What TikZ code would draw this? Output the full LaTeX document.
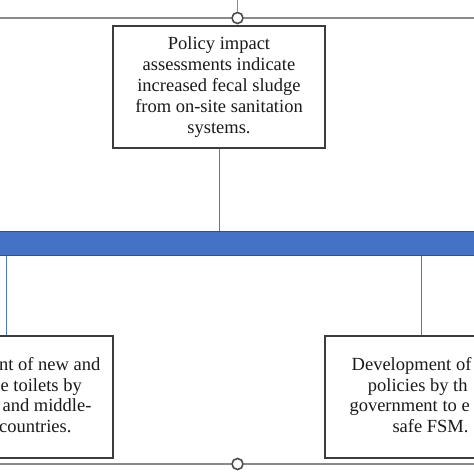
\documentclass[tikz,border=0pt]{standalone}
\usepackage{fontspec}
\setmainfont{Liberation Serif}
\definecolor{barblue}{HTML}{4472C4}
\definecolor{bardark}{HTML}{2F528F}
\definecolor{connblue}{HTML}{4F78C8}
\definecolor{boxgray}{HTML}{3C3C3C}
\definecolor{guidegray}{HTML}{8A8A8A}
\definecolor{handlegray}{HTML}{4A4A4A}
\definecolor{txtcol}{HTML}{1A1A1A}
\newcommand\boxfont{\fontsize{18.5}{20.8}\selectfont}
\begin{document}
\begin{tikzpicture}[x=1pt,y=-1pt,
  stepbox/.style={draw=boxgray, line width=1.2pt, fill=white, inner sep=0pt, align=center, font=\boxfont, text=txtcol},
  txt/.style={inner sep=0pt, font=\boxfont, text=txtcol},
  conn/.style={draw=connblue, line width=1pt},
  guide/.style={draw=guidegray, line width=1.2pt},
  handle/.style={circle, draw=handlegray, fill=white, line width=1.6pt, minimum size=11pt, inner sep=0pt},
  barstyle/.style={fill=barblue, draw=bardark, line width=1pt, inner sep=0pt}]
\useasboundingbox (0,0) rectangle (474,474);
\clip (0,0) rectangle (474,474);
\fill[white] (0,0) rectangle (474,474);
% selection guides
\coordinate (stem) at (237.5,-2);
\coordinate (gtl) at (-2,18);
\coordinate (gtr) at (476,18);
\coordinate (gbl) at (-2,464);
\coordinate (gbr) at (476,464);
\node[handle] (h1) at (237.5,18) {};
\node[handle] (h2) at (237.5,464) {};
\draw[guide] (stem) -- (h1.north);
\draw[guide] (gtl) -- (h1.west);
\draw[guide] (h1.east) -- (gtr);
\draw[guide] (gbl) -- (h2.west);
\draw[guide] (h2.east) -- (gbr);
% boxes
\node[stepbox, minimum width=212pt, minimum height=122pt] (top) at (219,87)
  {Policy impact\\assessments indicate\\increased fecal sludge\\from on-site sanitation\\systems.};
\node[barstyle, minimum width=480pt, minimum height=24pt] (bar) at (237,243) {};
\node[stepbox, minimum width=213pt, minimum height=122pt] (lbox) at (6.5,397) {};
\node[stepbox, minimum width=215pt, minimum height=122pt] (rbox) at (432.5,397) {};
% connectors
\coordinate (rc) at (421,300);
\draw[conn] (top.south) -- (top.south |- bar.north);
\draw[conn] (lbox.north |- bar.south) -- (lbox.north);
\draw[conn] (rc |- bar.south) -- (rc |- rbox.north);
% left box text
\node[txt, anchor=base east] (l1) at (100.5,370.7) {nt of new and};
\node[txt, anchor=base east] (l2) at (82,391.2) {e toilets by};
\node[txt, anchor=base east] (l3) at (91.7,411.7) {and middle-};
\node[txt, anchor=base east] (l4) at (71.7,432.2) {countries.};
% right box text
\node[txt, anchor=base west] (r1) at (351.5,370.7) {Development of};
\node[txt, anchor=base west] (r2) at (367.7,391.2) {policies by th};
\node[txt, anchor=base west] (r3) at (349.3,411.7) {government to e};
\node[txt, anchor=base west] (r4) at (392.3,432.2) {safe FSM.};
\end{tikzpicture}
\end{document}
